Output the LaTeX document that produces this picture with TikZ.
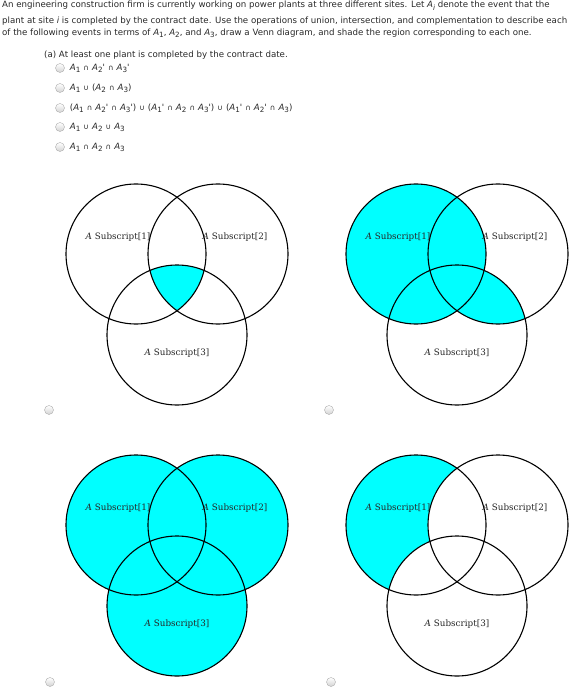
\documentclass[tikz,border=0pt]{standalone}
\usepackage{fontspec}
\setmainfont{DejaVu Sans}
\newfontfamily\vennfont{DejaVu Serif}
\usetikzlibrary{positioning}
\definecolor{cyanfill}{RGB}{0,255,255}
\definecolor{ink}{RGB}{40,40,40}
\newcommand{\Aset}[1]{\textit{A}\raisebox{-0.45ex}{\fontsize{7.2}{8}\selectfont #1}}
\newcommand{\prm}{\textquotesingle}
\newcommand{\inter}{\hspace{3.1pt}{\fontsize{7.5}{8}\selectfont ∩}\hspace{3.1pt}}
\newcommand{\union}{\hspace{3.1pt}{\fontsize{7.5}{8}\selectfont ∪}\hspace{3.1pt}}
\newcommand{\ringa}{(0,0) circle[radius=70pt]}
\newcommand{\ringb}{(82,0) circle[radius=70pt]}
\newcommand{\ringc}{(41,81) circle[radius=70pt]}
% one Venn diagram: centre of A1, name tag, shading
\newcommand{\vennset}[4]{%
  \begin{scope}[shift={(#1,#2)}]
    #4
    \draw[ring] \ringa;
    \draw[ring] \ringb;
    \draw[ring] \ringc;
    \node[lab] (#3a) at (-18,-17) {\textit{A} Subscript[1]};
    \node[lab] (#3b) at (99,-17) {\textit{A} Subscript[2]};
    \node[lab] (#3c) at (41,99) {\textit{A} Subscript[3]};
  \end{scope}}

\begin{document}
\begin{tikzpicture}[x=1pt,y=-1pt,
txt/.style={anchor=base west,inner sep=0,font=\fontsize{8.65}{10}\selectfont,text=ink},
opt/.style={txt,anchor=west},
radio/.style={circle,draw=gray!65,inner sep=0,minimum size=9pt,top color=white,bottom color=gray!35},
ring/.style={draw=black,line width=1.1pt},
lab/.style={inner sep=0,font=\vennfont\fontsize{8.8}{10}\selectfont,text=black!85},
shade/.style={fill=cyanfill}]
\useasboundingbox (0,0) rectangle (581,700);
\node[txt] (l1) at (2,8) {An engineering construction firm is currently working on power plants at three different sites. Let \Aset{\textit{i}} denote the event that the};
\node[txt] (l2) at (2,24) {plant at site \textit{i} is completed by the contract date. Use the operations of union, intersection, and complementation to describe each};
\node[txt] (l3) at (2,35.5) {of the following events in terms of \Aset{1}, \Aset{2}, and \Aset{3}, draw a Venn diagram, and shade the region corresponding to each one.};
\node[txt] (qa) at (44,58) {(a) At least one plant is completed by the contract date.};
% choices
\node[radio] (r1) at (60,68) {};
\node[radio] (r2) at (60,88) {};
\node[radio] (r3) at (60,108) {};
\node[radio] (r4) at (60,127) {};
\node[radio] (r5) at (60,147) {};
\node[opt,right=5pt of r1] (o1) {\Aset{1}\inter\Aset{2}\prm\inter\Aset{3}\prm};
\node[opt,right=5pt of r2] (o2) {\Aset{1}\union(\Aset{2}\inter\Aset{3})};
\node[opt,right=5pt of r3] (o3) {(\Aset{1}\inter\Aset{2}\prm\inter\Aset{3}\prm)\union(\Aset{1}\prm\inter\Aset{2}\inter\Aset{3}\prm)\union(\Aset{1}\prm\inter\Aset{2}\prm\inter\Aset{3})};
\node[opt,right=5pt of r4] (o4) {\Aset{1}\union\Aset{2}\union\Aset{3}};
\node[opt,right=5pt of r5] (o5) {\Aset{1}\inter\Aset{2}\inter\Aset{3}};
% the four diagrams
\vennset{136}{254}{va}{\begin{scope}\clip \ringa; \clip \ringb; \fill[shade] \ringc;\end{scope}}
\vennset{416}{254}{vb}{\fill[shade] \ringa; \begin{scope}\clip \ringb; \fill[shade] \ringc;\end{scope}}
\vennset{136}{525}{vc}{\fill[shade] \ringa; \fill[shade] \ringb; \fill[shade] \ringc;}
\vennset{416}{525}{vd}{\fill[shade] \ringa; \fill[white] \ringb; \fill[white] \ringc;}
\node[radio] (ra) at (49,410) {};
\node[radio] (rb) at (329,410) {};
\node[radio] (rc) at (50,682) {};
\node[radio] (rd) at (331,682) {};
\end{tikzpicture}
\end{document}
